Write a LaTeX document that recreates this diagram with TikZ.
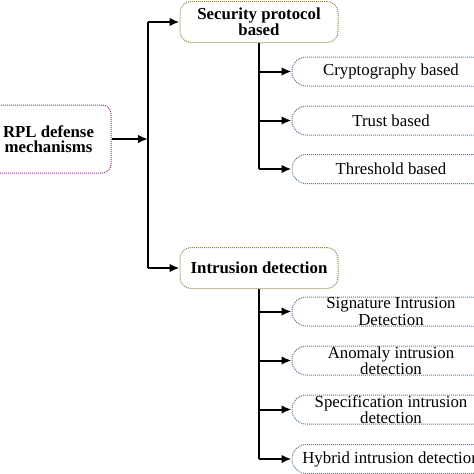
\documentclass[tikz,border=0pt]{standalone}
\usepackage{fontspec}
\setmainfont{Liberation Serif}
\usetikzlibrary{arrows.meta}
\definecolor{rplc}{HTML}{7E3A7E}
\definecolor{midc}{HTML}{8F8250}
\definecolor{leafc}{HTML}{5E7C9C}
\tikzset{
  box/.style={draw, line width=1pt, dash pattern=on 1pt off 1pt, fill=white, align=center, inner sep=0pt},
  rplbox/.style={box, draw=rplc, rounded corners=9pt, minimum width=125pt, minimum height=68pt, font=\fontsize{16.8}{15.5}\selectfont\bfseries},
  midbox/.style={box, draw=midc, rounded corners=11pt, minimum width=158pt, minimum height=41pt, font=\fontsize{16.8}{16}\selectfont\bfseries},
  leafbox/.style={box, draw=leafc, rounded corners=14pt, minimum width=198pt, minimum height=29pt, font=\fontsize{16.8}{16.5}\selectfont},
  conn/.style={line width=2pt, black},
  arr/.style={conn, -{Latex[length=10pt,width=8.5pt]}},
}
\begin{document}
\begin{tikzpicture}[x=1pt,y=-1pt]
\useasboundingbox (0,0) rectangle (474,474);
\clip (0,0) rectangle (474,474);
\node[rplbox] (rpl) at (48.5,139) {RPL defense\\mechanisms};
\node[midbox] (sec) at (259,22) {Security protocol\\based};
\node[midbox] (int) at (259,268) {Intrusion detection};
\node[leafbox] (c1) at (391,71.5) {Cryptography based};
\node[leafbox] (c2) at (391,120.5) {Trust based};
\node[leafbox] (c3) at (391,169) {Threshold based};
\node[leafbox] (d1) at (391,311.5) {Signature Intrusion\\Detection};
\node[leafbox] (d2) at (391,360.5) {Anomaly intrusion\\detection};
\node[leafbox] (d3) at (391,409.5) {Specification intrusion\\detection};
\node[leafbox] (d4) at (391,459) {Hybrid intrusion detection};
\coordinate (t1) at (148,22);
\coordinate (t2) at (148,268);
\draw[conn] (t1) -- (t2);
\draw[arr] (rpl.east) -- (rpl.east -| t1);
\draw[arr] (t1) -- (sec.west);
\draw[arr] (t2) -- (int.west);
\draw[conn] (sec.south) -- (sec.south |- c3.west);
\draw[arr] (sec.south |- c1.west) -- (c1.west);
\draw[arr] (sec.south |- c2.west) -- (c2.west);
\draw[arr] (sec.south |- c3.west) -- (c3.west);
\draw[conn] (int.south) -- (int.south |- d4.west);
\draw[arr] (int.south |- d1.west) -- (d1.west);
\draw[arr] (int.south |- d2.west) -- (d2.west);
\draw[arr] (int.south |- d3.west) -- (d3.west);
\draw[arr] (int.south |- d4.west) -- (d4.west);
\end{tikzpicture}
\end{document}
